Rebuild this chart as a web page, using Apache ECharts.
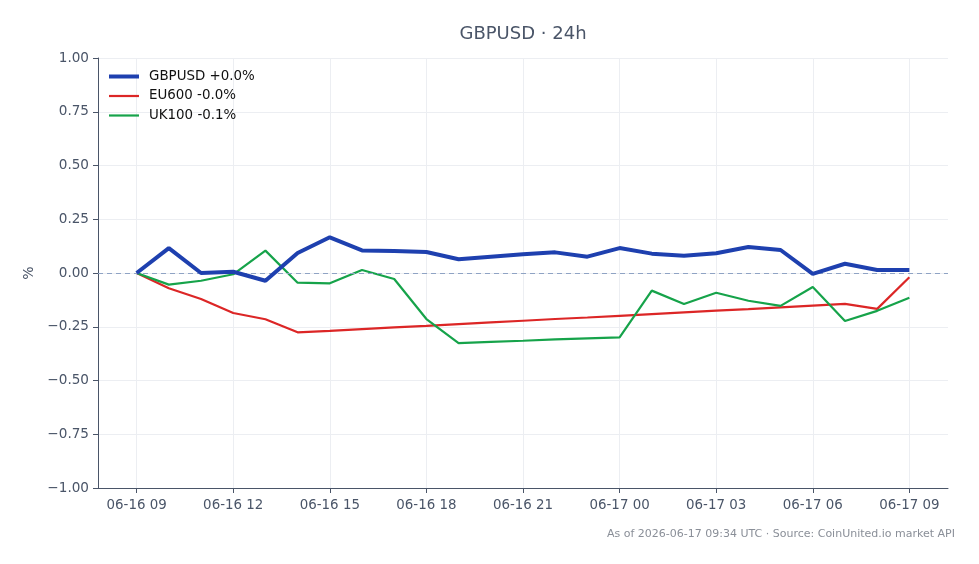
<!DOCTYPE html>
<html><head><meta charset="utf-8">
<script src="https://cdn.jsdelivr.net/npm/echarts@6/dist/echarts.min.js"></script>
<style>html,body{margin:0;padding:0;background:#fff}#c{width:979px;height:564px}</style>
</head><body><div id="c"></div>
<script>
const timeLabels = ['06-16 09','06-16 10','06-16 11','06-16 12','06-16 13','06-16 14','06-16 15','06-16 16','06-16 17','06-16 18','06-16 19','06-16 20','06-16 21','06-16 22','06-16 23','06-17 00','06-17 01','06-17 02','06-17 03','06-17 04','06-17 05','06-17 06','06-17 07','06-17 08','06-17 09'];
const gbpusd = [0.000,0.116,0.000,0.006,-0.036,0.093,0.166,0.105,0.102,0.098,0.064,0.076,0.087,0.096,0.076,0.116,0.090,0.080,0.092,0.121,0.107,-0.004,0.043,0.014,0.014];
const eu600 = [0.000,-0.071,-0.121,-0.186,-0.215,-0.276,-0.269,-0.261,-0.253,-0.246,-0.238,-0.230,-0.222,-0.214,-0.207,-0.199,-0.191,-0.183,-0.175,-0.168,-0.160,-0.152,-0.144,-0.167,-0.020];
const uk100 = [0.000,-0.054,-0.036,-0.006,0.104,-0.045,-0.048,0.014,-0.028,-0.214,-0.326,-0.320,-0.315,-0.309,-0.304,-0.299,-0.082,-0.144,-0.092,-0.129,-0.153,-0.065,-0.223,-0.176,-0.115];
const xTicks = [0,3,6,9,12,15,18,21,24];
const seriesNames = ['GBPUSD','EU600','UK100'];

function pct(v){ return (v>=0?'+':'-') + Math.abs(v).toFixed(1) + '%'; }
function lastLabel(name, arr){ return name + ' ' + pct(arr[arr.length-1]); }
function pairs(arr){ return arr.map((v,i)=>[i,v]); }

const FONT = 'DejaVu Sans';
const axisCol = '#4a5568';
const widths = [4, 2.2, 2.2];
const chart = echarts.init(document.getElementById('c'), null, {renderer:'canvas'});
const names = [lastLabel(seriesNames[0],gbpusd), lastLabel(seriesNames[1],eu600), lastLabel(seriesNames[2],uk100)];
chart.setOption({
  animation:false,
  backgroundColor:'#fff',
  textStyle:{fontFamily:FONT},
  title:{text:'GBPUSD · 24h', left:518, top:20, textAlign:'center',
    textStyle:{fontFamily:FONT,fontSize:18,fontWeight:'normal',color:'#4a5568'}},
  graphic:[{type:'text', right:24, top:529, style:{text:'As of 2026-06-17 09:34 UTC · Source: CoinUnited.io market API', fontFamily:FONT, fontSize:11, fill:'#8a8f98', textAlign:'right'}}],
  legend:{left:102, top:65, orient:'vertical', itemGap:6.5, itemWidth:30, itemHeight:14,
    itemStyle:{opacity:0},
    textStyle:{fontFamily:FONT,fontSize:13.4,color:'#111',padding:[0,0,0,5]},
    data:names.map((n,i)=>({name:n,lineStyle:{width:widths[i]}}))},
  grid:{left:98,right:31,top:58,bottom:76},
  xAxis:{type:'value',min:-1.2,max:25.2,
    axisLine:{onZero:false,lineStyle:{color:axisCol,width:1}},
    axisTick:{show:true,length:5,customValues:xTicks,lineStyle:{color:axisCol}},
    axisLabel:{customValues:xTicks,formatter:v=>timeLabels[Math.round(v)]||'',fontFamily:FONT,fontSize:13.4,color:'#4a5568',margin:11},
    splitLine:{show:true,lineStyle:{color:'#eceef2',width:1}}},
  yAxis:{type:'value',min:-1,max:1,interval:0.25,
    name:'%',nameLocation:'middle',nameGap:62,nameRotate:90,
    nameTextStyle:{fontFamily:FONT,fontSize:14,color:'#4a5568'},
    axisLine:{show:true,onZero:false,lineStyle:{color:axisCol,width:1}},
    axisTick:{show:true,length:5,lineStyle:{color:axisCol}},
    axisLabel:{formatter:v=>v.toFixed(2).replace('-','\u2212'),fontFamily:FONT,fontSize:13.6,color:'#4a5568',margin:9},
    splitLine:{show:true,lineStyle:{color:'#eceef2',width:1}}},
  series:[
    {name:names[0],type:'line',data:pairs(gbpusd),showSymbol:false,symbol:'none',z:5,
      lineStyle:{color:'#1e40af',width:widths[0]},itemStyle:{color:'#1e40af'},
      markLine:{silent:true,symbol:'none',label:{show:false},data:[{yAxis:0}],
        lineStyle:{color:'#8fa3c4',type:[5,4],width:1}}},
    {name:names[1],type:'line',data:pairs(eu600),showSymbol:false,symbol:'none',z:3,
      lineStyle:{color:'#dc2626',width:widths[1]},itemStyle:{color:'#dc2626'}},
    {name:names[2],type:'line',data:pairs(uk100),showSymbol:false,symbol:'none',z:4,
      lineStyle:{color:'#16a34a',width:widths[2]},itemStyle:{color:'#16a34a'}}
  ]
});
</script></body></html>
